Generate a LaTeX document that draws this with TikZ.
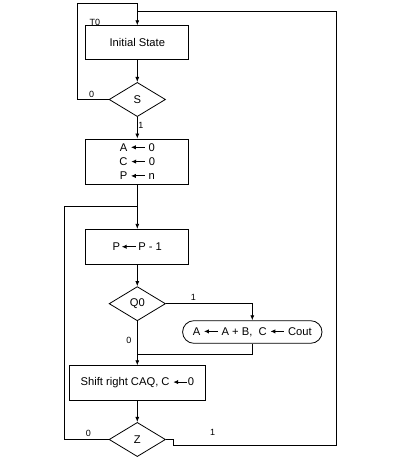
\documentclass[tikz,border=0pt]{standalone}
\usepackage{fontspec}
\setmainfont{Liberation Sans}
\usetikzlibrary{shapes.geometric,arrows.meta}
\newcommand{\larr}{\tikz[baseline={(0,-3.8pt)}]\draw[line width=1.1pt,{Latex[length=5pt,width=4.5pt]}-](0,0)--(14pt,0);}
\begin{document}
\begin{tikzpicture}[x=1pt,y=1pt,
  box/.style={draw, line width=0.8pt, inner sep=0pt, font=\fontsize{11.2}{14.3}\selectfont, align=center},
  dia/.style={draw, diamond, line width=0.8pt, inner sep=0pt, minimum width=56.4, minimum height=34.2, font=\fontsize{11.2}{13}\selectfont},
  conn/.style={line width=0.8pt},
  arr/.style={conn, -{Latex[length=5pt,width=4pt]}},
  lbl/.style={font=\fontsize{9}{10}\selectfont, inner sep=0pt}]
\useasboundingbox (0,0) rectangle (400,476);
\node[box, minimum width=103, minimum height=33.6] (init) at (137.3,433.5) {Initial State};
\node[dia] (S) at (137.3,376.5) {S};
\node[box, minimum width=103, minimum height=45] (b2) at (137.3,314.5) {A \larr{} 0\\C \larr{} 0\\P \larr{} n};
\node[box, minimum width=103, minimum height=34.7] (b3) at (137.3,229.3) {P\kern1pt\larr\kern2pt P - 1};
\node[dia] (Q) at (137.3,172.3) {Q0};
\node[box, rounded corners=11.3pt, minimum width=139.4, minimum height=22.6] (rb) at (252.3,144) {A \larr{} A + B,\ \ C \larr{} Cout};
\node[box, minimum width=135.3, minimum height=34.6] (b5) at (137.3,93) {Shift right CAQ, C \larr{}0};
\node[dia] (Z) at (137.3,36.5) {Z};
% coordinates
\coordinate (sl1) at (77.3,376.5);
\coordinate (sl2) at (77.3,472.7);
\coordinate (sl3) at (137.3,472.7);
\coordinate (j1) at (137.3,269.3);
\coordinate (zl) at (64,269.3);
\coordinate (qr) at (252.3,172.3);
\coordinate (j2) at (137.3,121.7);
\coordinate (zr1) at (173.3,36.5);
\coordinate (zr2) at (173.3,30.3);
\coordinate (zr3) at (336,30.3);
\coordinate (zr4) at (336,465);
\coordinate (top) at (137.3,465);
% connectors
\draw[arr] (init) -- (S);
\draw[arr] (S) -- (b2);
\draw[arr] (S.west) -- (sl1) -- (sl2) -- (sl3) -- (init);
\draw[arr] (b2) -- (b3);
\draw[conn] (Z.west) -| (zl) -- (j1);
\draw[arr] (b3) -- (Q);
\draw[arr] (Q.east) -- (qr) -- (rb);
\draw[arr] (Q) -- (b5);
\draw[conn] (rb.south) |- (j2);
\draw[arr] (b5) -- (Z);
\draw[conn] (Z.east) -- (zr1) -- (zr2) -- (zr3) -- (zr4) -- (top);
% labels
\node[lbl] (lT0) at (95,453.3) {T0};
\node[lbl] (lS0) at (91.7,382) {0};
\node[lbl] (lS1) at (141,351) {1};
\node[lbl] (lQ1) at (193.3,178.3) {1};
\node[lbl] (lQ0) at (129,135.3) {0};
\node[lbl] (lZ0) at (88.3,42.7) {0};
\node[lbl] (lZ1) at (212.7,43.3) {1};
\end{tikzpicture}
\end{document}
